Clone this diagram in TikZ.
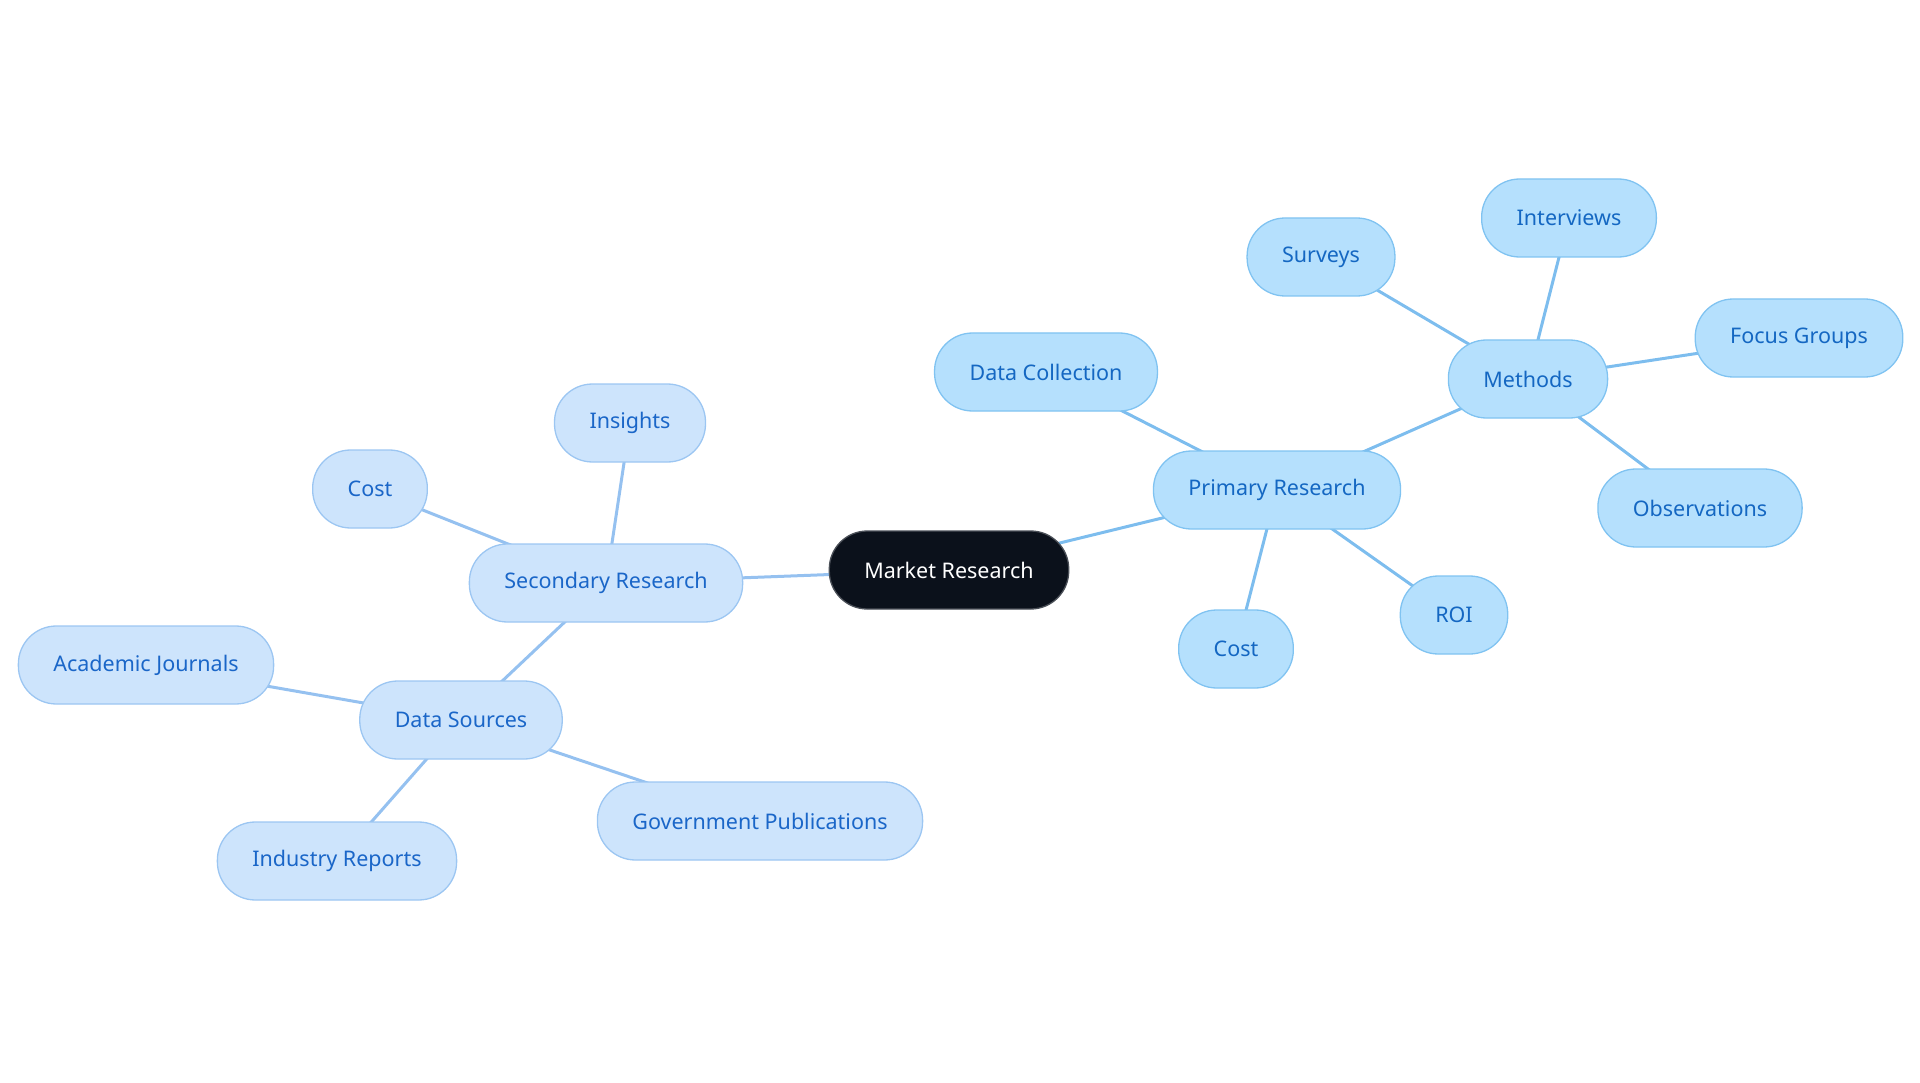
\documentclass[tikz,border=0pt]{standalone}
\usepackage{fontspec}
\setmainfont{Noto Sans}
\usetikzlibrary{backgrounds}
\begin{document}
\begin{tikzpicture}
[x=1pt, y=-1pt,
pill/.style={draw, line width=1.3pt, rounded corners=38pt, minimum height=78pt, inner xsep=35pt, font=\fontsize{21.5}{25}\selectfont},
root/.style={pill, fill=rootfill, draw=rootdraw, text=white},
prim/.style={pill, fill=primfill, draw=primdraw, text=primtext},
sec/.style={pill, fill=secfill, draw=secdraw, text=sectext},
primline/.style={draw=primline, line width=3pt},
secline/.style={draw=secline, line width=3pt}]

\definecolor{rootfill}{HTML}{0B111B}
\definecolor{rootdraw}{HTML}{4A4F57}
\definecolor{primfill}{HTML}{B5E0FD}
\definecolor{primdraw}{HTML}{80C3F1}
\definecolor{primtext}{HTML}{1467C2}
\definecolor{primline}{HTML}{7DBDEE}
\definecolor{secfill}{HTML}{CDE4FC}
\definecolor{secdraw}{HTML}{9CC6F2}
\definecolor{sectext}{HTML}{1A66C8}
\definecolor{secline}{HTML}{95C1F0}

\useasboundingbox (0,0) rectangle (1920,1083);

% centre
\node [root] (mr) at (949,570) {Market Research};

% primary branch
\node [prim] (pr) at (1277,490) {Primary Research};
\node [prim] (me) at (1528,379) {Methods};
\node [prim] (iv) at (1569,218) {Interviews};
\node [prim] (sv) at (1321,257) {Surveys};
\node [prim] (fg) at (1799,338) {Focus Groups};
\node [prim] (ob) at (1700,508) {Observations};
\node [prim] (dc) at (1046,372) {Data Collection};
\node [prim] (pc) at (1236,649) {Cost};
\node [prim] (roi) at (1454,615) {ROI};

% secondary branch
\node [sec] (sr) at (606,583) {Secondary Research};
\node [sec] (in) at (630,423) {Insights};
\node [sec] (sc) at (370,489) {Cost};
\node [sec] (ds) at (461,720) {Data Sources};
\node [sec] (aj) at (146,665) {Academic Journals};
\node [sec] (ir) at (337,861) {Industry Reports};
\node [sec] (gp) at (760,821) {Government Publications};

% connectors, centre to centre behind the nodes
\begin{scope}[on background layer]
\path [primline] (mr.center) -- (pr.center);
\path [primline] (pr.center) -- (me.center);
\path [primline] (pr.center) -- (dc.center);
\path [primline] (pr.center) -- (pc.center);
\path [primline] (pr.center) -- (roi.center);
\path [primline] (me.center) -- (iv.center);
\path [primline] (me.center) -- (sv.center);
\path [primline] (me.center) -- (fg.center);
\path [primline] (me.center) -- (ob.center);

\path [secline] (mr.center) -- (sr.center);
\path [secline] (sr.center) -- (in.center);
\path [secline] (sr.center) -- (sc.center);
\path [secline] (sr.center) -- (ds.center);
\path [secline] (ds.center) -- (aj.center);
\path [secline] (ds.center) -- (ir.center);
\path [secline] (ds.center) -- (gp.center);
\end{scope}
\end{tikzpicture}
\end{document}
